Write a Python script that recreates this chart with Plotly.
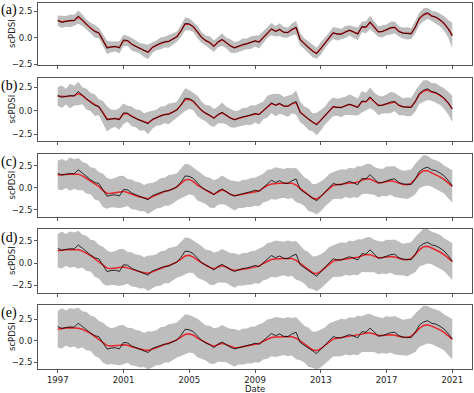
import plotly.graph_objects as go

years = list(range(1997, 2021))
dates = [y + q * 0.25 for y in years for q in range(4)] + [2021.0]

obs = [1.65, 1.45, 1.55, 1.62, 1.60, 2.05, 1.68, 1.25,
       0.90, 0.60, 0.48, -0.25, -0.97, -0.85, -0.81, -0.95,
       -0.20, -0.25, -0.60, -0.80, -1.00, -1.20, -1.37, -0.90,
       -0.70, -0.50, -0.38, -0.35, -0.12, 0.10, 0.65, 1.35,
       1.30, 1.06, 0.55, 0.05, -0.25, -0.45, -0.80, -0.38,
       -0.15, -0.48, -0.75, -0.95, -0.80, -0.62, -0.56, -0.45,
       -0.28, -0.40, 0.05, 0.50, 0.85, 0.60, 0.80, 0.52,
       0.50, 0.80, 1.00, -0.20, -0.55, -0.90, -1.25, -1.50,
       -1.00, -0.50, 0.00, 0.48, 0.36, 0.34, 0.55, 0.72,
       0.55, 0.35, 1.06, 1.00, 1.50, 1.00, 0.55, 0.60,
       0.75, 0.95, 1.00, 0.60, 0.44, 0.42, 0.37, 1.00,
       1.85, 2.20, 2.35, 2.05, 1.95, 1.70, 1.37, 0.85,
       0.20]

red_a = [1.62, 1.50, 1.55, 1.60, 1.65, 1.95, 1.65, 1.25,
         0.92, 0.62, 0.45, -0.20, -0.90, -0.85, -0.82, -0.90,
         -0.25, -0.28, -0.60, -0.80, -1.00, -1.18, -1.32, -0.92,
         -0.70, -0.52, -0.40, -0.33, -0.12, 0.12, 0.65, 1.30,
         1.28, 1.02, 0.55, 0.05, -0.25, -0.45, -0.78, -0.40,
         -0.18, -0.48, -0.75, -0.92, -0.80, -0.62, -0.56, -0.45,
         -0.30, -0.38, 0.05, 0.48, 0.82, 0.62, 0.78, 0.52,
         0.50, 0.78, 0.95, -0.15, -0.55, -0.90, -1.22, -1.45,
         -1.00, -0.50, 0.00, 0.45, 0.36, 0.36, 0.55, 0.70,
         0.55, 0.38, 1.02, 1.00, 1.45, 1.00, 0.58, 0.60,
         0.75, 0.92, 0.98, 0.60, 0.45, 0.42, 0.40, 1.00,
         1.80, 2.15, 2.30, 2.05, 1.92, 1.68, 1.35, 0.85,
         0.22]

red_b = [1.55, 1.50, 1.52, 1.58, 1.62, 1.85, 1.62, 1.25,
         0.95, 0.62, 0.40, -0.15, -0.85, -0.85, -0.80, -0.85,
         -0.30, -0.30, -0.58, -0.80, -1.00, -1.15, -1.28, -0.95,
         -0.72, -0.52, -0.40, -0.32, -0.12, 0.12, 0.62, 1.20,
         1.22, 0.98, 0.52, 0.05, -0.25, -0.48, -0.75, -0.42,
         -0.20, -0.48, -0.75, -0.90, -0.80, -0.64, -0.56, -0.45,
         -0.32, -0.35, 0.05, 0.45, 0.78, 0.62, 0.75, 0.52,
         0.50, 0.75, 0.88, -0.10, -0.52, -0.88, -1.20, -1.40,
         -1.00, -0.52, 0.00, 0.42, 0.38, 0.38, 0.55, 0.68,
         0.55, 0.42, 0.98, 0.98, 1.38, 1.00, 0.60, 0.62,
         0.75, 0.90, 0.95, 0.60, 0.45, 0.42, 0.42, 1.00,
         1.75, 2.10, 2.22, 2.02, 1.90, 1.65, 1.32, 0.85,
         0.22]

red_c = [1.45, 1.50, 1.52, 1.55, 1.55, 1.55, 1.35, 1.05,
         0.80, 0.45, 0.15, -0.30, -0.65, -0.62, -0.55, -0.50,
         -0.42, -0.55, -0.75, -0.92, -1.05, -1.18, -1.25, -1.05,
         -0.82, -0.62, -0.45, -0.30, -0.15, 0.10, 0.50, 0.90,
         0.95, 0.70, 0.30, 0.00, -0.30, -0.55, -0.75, -0.45,
         -0.25, -0.45, -0.75, -0.92, -0.82, -0.72, -0.65, -0.55,
         -0.45, -0.38, -0.05, 0.25, 0.42, 0.48, 0.52, 0.50,
         0.50, 0.52, 0.30, -0.05, -0.45, -0.85, -1.20, -1.30,
         -1.00, -0.55, -0.10, 0.25, 0.35, 0.42, 0.50, 0.55,
         0.55, 0.65, 0.85, 1.02, 1.00, 0.80, 0.55, 0.60,
         0.72, 0.80, 0.70, 0.50, 0.38, 0.35, 0.50, 1.00,
         1.60, 1.95, 1.95, 1.70, 1.50, 1.25, 0.95, 0.55,
         0.15]

red_d = [1.40, 1.48, 1.50, 1.52, 1.52, 1.50, 1.35, 1.10,
         0.85, 0.50, 0.15, -0.25, -0.58, -0.62, -0.58, -0.52,
         -0.45, -0.55, -0.72, -0.88, -1.00, -1.10, -1.15, -1.00,
         -0.80, -0.62, -0.45, -0.30, -0.12, 0.12, 0.45, 0.80,
         0.88, 0.68, 0.32, 0.02, -0.28, -0.50, -0.65, -0.45,
         -0.30, -0.45, -0.70, -0.85, -0.80, -0.72, -0.65, -0.55,
         -0.45, -0.35, -0.05, 0.22, 0.40, 0.45, 0.50, 0.50,
         0.50, 0.50, 0.30, -0.05, -0.42, -0.80, -1.10, -1.20,
         -0.95, -0.55, -0.12, 0.22, 0.32, 0.40, 0.48, 0.55,
         0.58, 0.65, 0.82, 0.95, 0.95, 0.80, 0.60, 0.62,
         0.70, 0.75, 0.68, 0.50, 0.40, 0.38, 0.52, 0.95,
         1.50, 1.85, 1.90, 1.70, 1.50, 1.25, 0.95, 0.58,
         0.18]

red_e = [1.35, 1.45, 1.50, 1.52, 1.52, 1.48, 1.35, 1.12,
         0.88, 0.52, 0.18, -0.22, -0.55, -0.62, -0.60, -0.52,
         -0.45, -0.52, -0.70, -0.85, -0.98, -1.08, -1.12, -1.00,
         -0.82, -0.62, -0.45, -0.30, -0.12, 0.10, 0.42, 0.75,
         0.82, 0.65, 0.32, 0.05, -0.25, -0.45, -0.62, -0.45,
         -0.30, -0.45, -0.68, -0.82, -0.78, -0.70, -0.62, -0.52,
         -0.42, -0.32, -0.05, 0.20, 0.38, 0.45, 0.48, 0.48,
         0.48, 0.48, 0.30, -0.02, -0.40, -0.75, -1.05, -1.15,
         -0.92, -0.55, -0.12, 0.20, 0.30, 0.38, 0.45, 0.52,
         0.55, 0.62, 0.78, 0.90, 0.92, 0.80, 0.62, 0.62,
         0.68, 0.72, 0.65, 0.50, 0.42, 0.40, 0.55, 0.95,
         1.45, 1.80, 1.88, 1.72, 1.52, 1.28, 0.98, 0.60,
         0.20]

spread_a = [0.48, 0.58, 0.50, 0.60, 0.52, 0.62, 0.54, 0.46,
            0.50, 0.60, 0.48, 0.56, 0.62, 0.50, 0.46, 0.58,
            0.54, 0.48, 0.60, 0.52, 0.48, 0.62, 0.66, 0.50,
            0.46, 0.56, 0.50, 0.60, 0.52, 0.48, 0.56, 0.62,
            0.56, 0.48, 0.58, 0.50, 0.46, 0.60, 0.54, 0.48,
            0.58, 0.50, 0.62, 0.52, 0.48, 0.56, 0.50, 0.60,
            0.52, 0.62, 0.56, 0.48, 0.58, 0.50, 0.60, 0.52,
            0.48, 0.56, 0.64, 0.58, 0.50, 0.56, 0.60, 0.52,
            0.58, 0.50, 0.48, 0.56, 0.60, 0.50, 0.56, 0.48,
            0.52, 0.60, 0.50, 0.56, 0.62, 0.52, 0.48, 0.58,
            0.50, 0.60, 0.56, 0.48, 0.52, 0.58, 0.50, 0.60,
            0.56, 0.62, 0.52, 0.48, 0.56, 0.60, 0.68, 0.82,
            1.20]

spread_b = [1.00, 1.20, 0.85, 1.30, 1.05, 1.25, 0.90, 1.10,
            0.95, 1.15, 0.85, 1.20, 1.35, 1.00, 0.90, 1.15,
            1.10, 0.85, 1.05, 0.95, 1.10, 0.90, 1.20, 0.95,
            0.85, 1.00, 0.90, 1.10, 0.95, 0.85, 1.05, 1.20,
            1.00, 0.90, 1.10, 0.95, 0.85, 1.05, 0.95, 0.90,
            1.10, 0.95, 1.00, 0.90, 0.85, 0.95, 0.90, 1.05,
            0.90, 1.10, 0.95, 1.15, 1.00, 1.20, 1.05, 0.95,
            1.15, 1.00, 1.30, 1.10, 1.00, 1.15, 0.95, 1.20,
            1.10, 0.95, 1.05, 1.00, 0.90, 1.05, 0.95, 1.10,
            1.00, 0.90, 1.15, 0.95, 1.10, 0.95, 1.05, 0.90,
            1.00, 1.15, 0.95, 1.05, 0.90, 1.00, 0.95, 1.10,
            1.00, 1.15, 1.05, 0.95, 1.05, 1.00, 1.10, 1.20,
            1.40]

spread_c = [1.65, 1.80, 1.55, 1.90, 1.70, 1.85, 1.60, 1.75,
            1.55, 1.80, 1.65, 1.90, 1.75, 1.60, 1.70, 1.85,
            1.80, 1.55, 1.70, 1.60, 1.65, 1.50, 1.75, 1.60,
            1.55, 1.70, 1.60, 1.75, 1.65, 1.55, 1.70, 1.85,
            1.70, 1.60, 1.75, 1.65, 1.55, 1.70, 1.60, 1.50,
            1.65, 1.55, 1.60, 1.70, 1.50, 1.60, 1.55, 1.65,
            1.60, 1.75, 1.65, 1.80, 1.70, 1.85, 1.75, 1.65,
            1.80, 1.70, 1.95, 1.75, 1.65, 1.80, 1.60, 1.75,
            1.70, 1.60, 1.65, 1.55, 1.60, 1.70, 1.55, 1.75,
            1.65, 1.80, 1.60, 1.70, 1.75, 1.60, 1.65, 1.55,
            1.70, 1.60, 1.75, 1.65, 1.55, 1.65, 1.60, 1.75,
            1.65, 1.80, 1.70, 1.60, 1.65, 1.70, 1.60, 1.75,
            1.85]

spread_d = [1.90, 2.10, 1.80, 2.05, 1.95, 2.15, 1.85, 2.00,
            1.80, 2.05, 1.90, 2.10, 2.00, 1.85, 1.95, 2.10,
            2.05, 1.80, 1.95, 1.85, 1.90, 1.75, 2.00, 1.85,
            1.80, 1.95, 1.85, 2.00, 1.90, 1.80, 1.95, 2.10,
            1.95, 1.85, 2.00, 1.90, 1.80, 1.95, 1.85, 1.75,
            1.90, 1.80, 1.85, 1.95, 1.75, 1.85, 1.80, 1.90,
            1.85, 2.00, 1.90, 2.05, 1.95, 2.10, 2.00, 1.90,
            2.05, 1.95, 2.20, 2.00, 1.90, 2.05, 1.85, 2.00,
            1.95, 1.85, 1.90, 1.80, 1.85, 1.95, 1.80, 2.00,
            1.90, 2.05, 1.85, 1.95, 2.00, 1.85, 1.90, 1.80,
            1.95, 1.85, 2.00, 1.90, 1.80, 1.90, 1.85, 2.00,
            1.90, 2.05, 1.95, 1.85, 1.90, 1.95, 1.85, 2.00,
            2.10]

spread_e = [2.15, 2.35, 2.05, 2.30, 2.20, 2.40, 2.10, 2.25,
            2.05, 2.30, 2.15, 2.35, 2.25, 2.10, 2.20, 2.35,
            2.30, 2.05, 2.20, 2.10, 2.15, 2.00, 2.25, 2.10,
            2.05, 2.20, 2.10, 2.25, 2.15, 2.05, 2.20, 2.35,
            2.20, 2.10, 2.25, 2.15, 2.05, 2.20, 2.10, 2.00,
            2.15, 2.05, 2.10, 2.20, 2.00, 2.10, 2.05, 2.15,
            2.10, 2.25, 2.15, 2.30, 2.20, 2.35, 2.25, 2.15,
            2.30, 2.20, 2.45, 2.25, 2.15, 2.30, 2.10, 2.25,
            2.20, 2.10, 2.15, 2.05, 2.10, 2.20, 2.05, 2.25,
            2.15, 2.30, 2.10, 2.20, 2.25, 2.10, 2.15, 2.05,
            2.20, 2.10, 2.25, 2.15, 2.05, 2.15, 2.10, 2.25,
            2.15, 2.30, 2.20, 2.10, 2.15, 2.20, 2.10, 2.25,
            2.35]

panel_labels = ["(a)", "(b)", "(c)", "(d)", "(e)"]
year_ticks = [1997, 2001, 2005, 2009, 2013, 2017, 2021]
y_ticks = [-2.5, 0.0, 2.5]
y_tick_text = ["\u22122.5", "0.0", "2.5"]

H_TOP, H_BOT = 3, 369
PH = H_BOT - H_TOP
def dom(top_px, bot_px):
    return [(H_BOT - bot_px) / PH, (H_BOT - top_px) / PH]

panels = [
    (red_a, spread_a, [-2.55, 3.27], dom(3, 65)),
    (red_b, spread_b, [-3.2, 3.5], dom(78, 141)),
    (red_c, spread_c, [-3.35, 3.86], dom(154, 217)),
    (red_d, spread_d, [-3.4, 3.86], dom(229, 293)),
    (red_e, spread_e, [-3.3, 4.19], dom(305, 369)),
]
label_px = [10, 86, 162, 238, 313]

FONT = "DejaVu Sans"
AX = "#555555"
fig = go.Figure()
annotations = []
W = 474 - 38 - 2
for i, (red, spr, yr, d) in enumerate(panels):
    n = "" if i == 0 else str(i + 1)
    xa, ya = "x" + n, "y" + n
    lower = [r - s for r, s in zip(red, spr)]
    upper = [r + s for r, s in zip(red, spr)]
    fig.add_trace(go.Scatter(x=dates, y=lower, mode="lines", line=dict(width=0, color="#bdbdbd"),
                             xaxis=xa, yaxis=ya, showlegend=False, hoverinfo="skip"))
    fig.add_trace(go.Scatter(x=dates, y=upper, mode="lines", line=dict(width=0, color="#bdbdbd"),
                             fill="tonexty", fillcolor="#bdbdbd",
                             xaxis=xa, yaxis=ya, showlegend=False, hoverinfo="skip"))
    fig.add_trace(go.Scatter(x=dates, y=red, mode="lines", line=dict(width=1.5, color="rgba(235,20,25,0.9)"),
                             xaxis=xa, yaxis=ya, showlegend=False))
    fig.add_trace(go.Scatter(x=dates, y=obs, mode="lines", line=dict(width=0.8, color="black"),
                             xaxis=xa, yaxis=ya, showlegend=False))
    fig.layout["xaxis" + n] = dict(
        domain=[0, 1], range=[1995.8, 2022.2], anchor=ya, automargin=False,
        tickvals=year_ticks, ticktext=[str(t) for t in year_ticks],
        showticklabels=(i == 4), ticks="outside", ticklen=3, tickcolor=AX,
        showline=True, linecolor=AX, linewidth=1, mirror=True,
        showgrid=False, zeroline=False, tickfont=dict(family=FONT, size=8.5, color="#222"))
    fig.layout["yaxis" + n] = dict(
        domain=d, range=yr, anchor=xa, automargin=False,
        tickvals=y_ticks, ticktext=y_tick_text,
        ticks="outside", ticklen=3, tickcolor=AX,
        showline=True, linecolor=AX, linewidth=1, mirror=True,
        showgrid=False, zeroline=False, tickfont=dict(family=FONT, size=8.5, color="#222"))
    annotations.append(dict(text="scPDSI", xref="paper", yref="paper", x=(12 - 38) / W,
                            y=(d[0] + d[1]) / 2, textangle=-90, showarrow=False,
                            xanchor="center", yanchor="middle",
                            font=dict(family=FONT, size=8.5, color="#222")))
    annotations.append(dict(text=panel_labels[i], xref="paper", yref="paper", x=-39 / W,
                            y=(H_BOT - label_px[i]) / PH, showarrow=False, xanchor="left", yanchor="middle",
                            font=dict(family="Liberation Serif", size=14, color="black")))

annotations.append(dict(text="Date", xref="paper", yref="paper", x=0.5, y=(H_BOT - 389.5) / PH,
                        showarrow=False, xanchor="center", yanchor="middle",
                        font=dict(family=FONT, size=8.5, color="#222")))

fig.update_layout(width=474, height=393, margin=dict(l=38, r=2, t=3, b=24, autoexpand=False),
                  plot_bgcolor="white", paper_bgcolor="white", annotations=annotations,
                  font=dict(family=FONT))
fig.write_html("out.html", config={"displayModeBar": False},
               post_script="document.body.style.margin='0';document.body.style.overflow='hidden';")
